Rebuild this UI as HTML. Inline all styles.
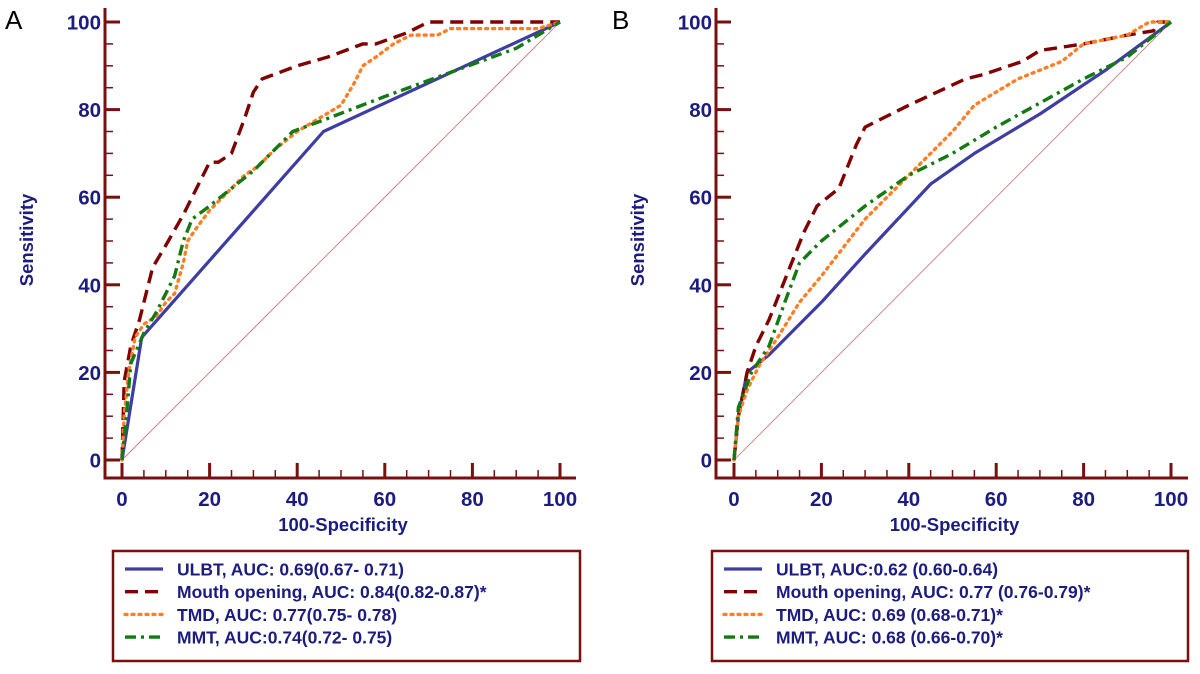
<!DOCTYPE html>
<html><head><meta charset="utf-8"><style>
body{margin:0;background:#fff;width:1200px;height:674px;overflow:hidden}
svg{display:block}
text{font-family:"Liberation Sans",sans-serif}
</style></head><body>
<svg id="root" width="1200" height="674" xmlns="http://www.w3.org/2000/svg"></svg>
<script>
const ticks = [0,20,40,60,80,100];
const seriesNames = ["ULBT","Mouth opening","TMD","MMT"];
const legendA = ["ULBT, AUC: 0.69(0.67- 0.71)","Mouth opening, AUC: 0.84(0.82-0.87)*","TMD, AUC: 0.77(0.75- 0.78)","MMT, AUC:0.74(0.72- 0.75)"];
const legendB = ["ULBT, AUC:0.62 (0.60-0.64)","Mouth opening, AUC: 0.77 (0.76-0.79)*","TMD, AUC: 0.69 (0.68-0.71)*","MMT, AUC: 0.68 (0.66-0.70)*"];
const ulbtAx=[0,4.5,46,100], ulbtAy=[0,28,75,100];
const mouthAx=[0,0.5,2,4,6,7,10,14,17,20,22,25,28,30,32,40,47,55,58,65,70,100];
const mouthAy=[0,18,26,32,40,44,49,56,62,68,68,70,78,84,87,90,92,95,95,97.5,100,100];
const tmdAx=[0,0.5,1.5,3,5,8,10,12,14,15,17,20,24,28,31,35,40,45,50,53,55,58,62,66,72,75,95,100];
const tmdAy=[0,10,20,28,31,33,36,38,45,50,53,57,61,65,67,71,75,78,81,86,90,92,95,97,97,98.5,98.5,100];
const mmtAx=[0,1,2,5,8,12,14,16,20,25,30,35,39,47,60,75,90,100];
const mmtAy=[0,10,22,29,34,42,50,55,58,62,66,71,75,78,83,88.5,94,100];
const ulbtBx=[0,1,3,8,20,30,45,55,70,85,100], ulbtBy=[0,10,20,24,36,47,63,70,79,89,100];
const mouthBx=[0,1,3,5,8,12,16,19,24,28,30,40,53,57,66,70,80,90,96,97,100];
const mouthBy=[0,10,20,26,32,42,52,58,62,72,76,81,87,88,91,93.5,95,97,98,100,100];
const tmdBx=[0,1,3,6,10,15,20,30,35,45,50,55,65,75,80,90,95,100];
const tmdBy=[0,10,16,22,28,36,42,55,60,70,75,81,87,91,95,97,100,100];
const mmtBx=[0,1,4,8,12,15,20,30,40,50,60,80,90,100];
const mmtBy=[0,12,20,26,37,45,50,58,65,70,76,87,92,100];

const NS="http://www.w3.org/2000/svg";
const root=document.getElementById('root');
function mk(tag,attrs,parent){const e=document.createElementNS(NS,tag);for(const k in attrs)e.setAttribute(k,attrs[k]);(parent||root).appendChild(e);return e;}
const AX="#7a0f0f", LBL="#1c1c80";
const styles=[
 {stroke:"#3d3da3",w:3.2,dash:null,cap:"butt"},
 {stroke:"#800000",w:3.4,dash:"13,7",cap:"butt"},
 {stroke:"#ff7f27",w:3.4,dash:"2,5",cap:"round"},
 {stroke:"#137a13",w:3.4,dash:"11,5,3,5",cap:"butt"}];

function panel(id,letter,lx,x0,x100,yAxisX,xAxisEnd,series,legend,legBox){
  const g=mk('g',{});
  
  
  const y0=460,y100=22;
  const sx=v=>x0+(x100-x0)*v/100, sy=v=>y0+(y100-y0)*v/100;
  const pl=mk('text',{x:lx,y:29,'font-size':26,fill:'#000'},g);pl.textContent=letter;
  
  const diag=mk('line',{x1:sx(0),y1:sy(0),x2:sx(100),y2:sy(100),stroke:'#c07070','stroke-width':0.8},g);
  
  const axY=478;
  const ya=mk('line',{x1:yAxisX,y1:8,x2:yAxisX,y2:axY+1.5,stroke:AX,'stroke-width':3},g);
  
  const xa=mk('line',{x1:yAxisX-1.5,y1:axY,x2:xAxisEnd,y2:axY,stroke:AX,'stroke-width':3},g);
  
  for(let v=0;v<=100;v+=5){
    const major=v%20===0;
    const t1=mk('line',{x1:yAxisX,y1:sy(v),x2:yAxisX+(major?15:8),y2:sy(v),stroke:AX,'stroke-width':major?3:1.5},g);
    
    const t2=mk('line',{x1:sx(v),y1:axY,x2:sx(v),y2:axY-(major?15:8),stroke:AX,'stroke-width':major?3:1.5},g);
    
  }
  ticks.forEach(v=>{
    const a=mk('text',{x:yAxisX-4,y:sy(v)+7.5,'font-size':20.5,'font-weight':'bold',fill:LBL,'text-anchor':'end'},g);a.textContent=v;
    
    const b=mk('text',{x:sx(v),y:506,'font-size':20.5,'font-weight':'bold',fill:LBL,'text-anchor':'middle'},g);b.textContent=v;
    
  });
  const yt=mk('text',{x:0,y:0,'font-size':18.5,'font-weight':'bold',fill:LBL,'text-anchor':'middle',transform:`translate(${yAxisX-72},240) rotate(-90)`},g);yt.textContent='Sensitivity';
  
  const xt=mk('text',{x:(x0+x100)/2+2,y:531,'font-size':18.5,'font-weight':'bold',fill:LBL,'text-anchor':'middle'},g);xt.textContent='100-Specificity';
  
  series.forEach((s,i)=>{
    const d=s[0].map((x,k)=>(k?'L':'M')+sx(x).toFixed(1)+','+sy(s[1][k]).toFixed(1)).join(' ');
    const st=styles[i];
    const p=mk('path',{d:d,fill:'none',stroke:st.stroke,'stroke-width':st.w,'stroke-linecap':st.cap,'stroke-linejoin':'round'},g);
    if(st.dash)p.setAttribute('stroke-dasharray',st.dash);
    
    
  });
  const lb=mk('rect',{x:legBox[0],y:551,width:legBox[1]-legBox[0],height:110,fill:'#fff',stroke:AX,'stroke-width':2.5},g);
  
  legend.forEach((t,i)=>{
    const yy=569+i*22.7, st=styles[i];
    const l=mk('line',{x1:legBox[0]+12,y1:yy,x2:legBox[0]+50,y2:yy,stroke:st.stroke,'stroke-width':st.w,'stroke-linecap':st.cap},g);
    if(st.dash)l.setAttribute('stroke-dasharray',st.dash);
    
    const tx=mk('text',{x:legBox[0]+64,y:yy+6.5,'font-size':17.5,'font-weight':'bold',fill:LBL},g);tx.textContent=t;
    
  });
}
panel('a','A',5,122,560,105,576,[[ulbtAx,ulbtAy],[mouthAx,mouthAy],[tmdAx,tmdAy],[mmtAx,mmtAy]],legendA,[113,580]);
panel('b','B',612,734,1171,716,1188,[[ulbtBx,ulbtBy],[mouthBx,mouthBy],[tmdBx,tmdBy],[mmtBx,mmtBy]],legendB,[712,1188]);
</script>
</body></html>
